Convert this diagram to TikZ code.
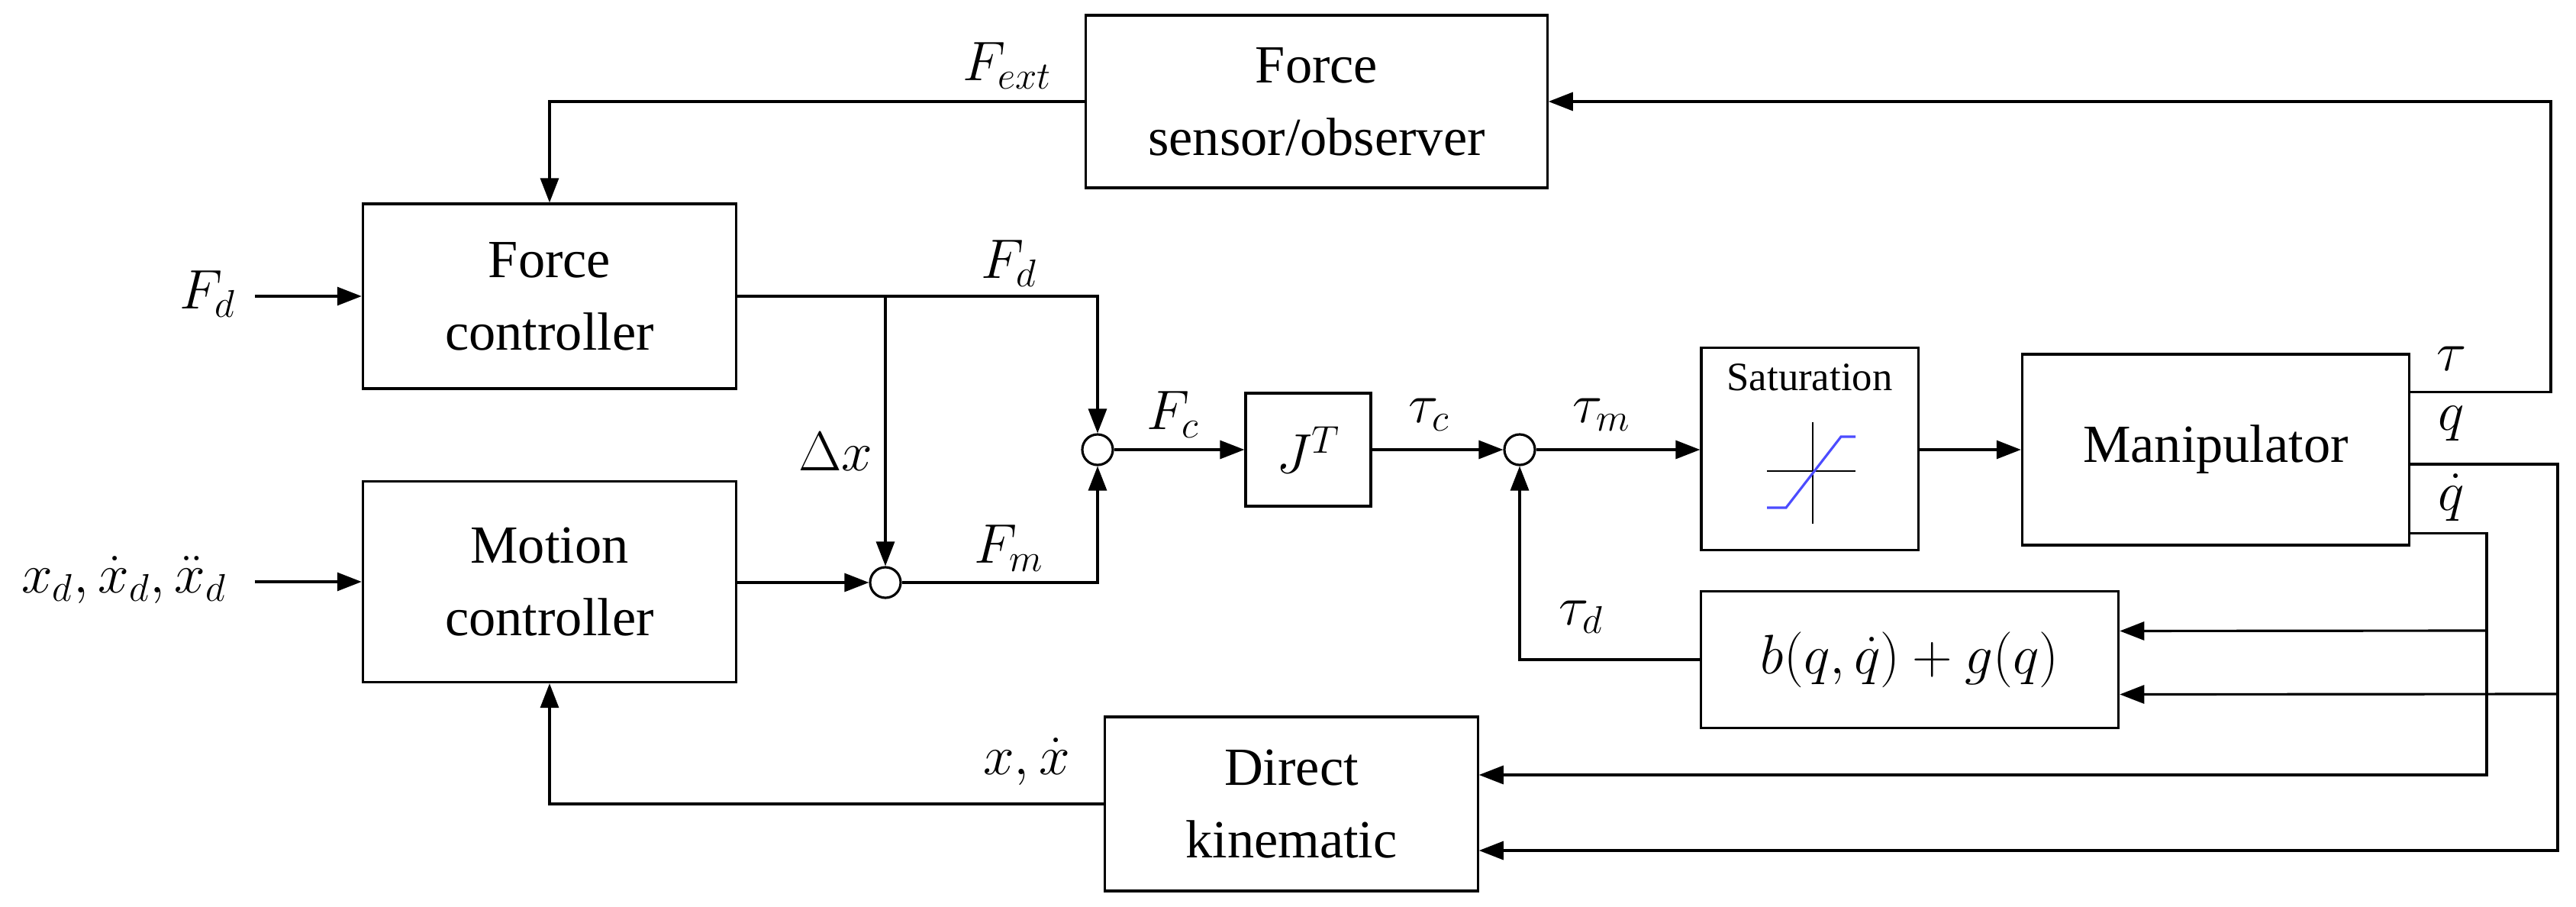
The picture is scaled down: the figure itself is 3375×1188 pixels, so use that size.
\documentclass[tikz,border=0pt]{standalone}
\usepackage{fontspec}
\setmainfont{Liberation Serif}
\usetikzlibrary{arrows.meta}
\begin{document}
\begin{tikzpicture}[x=0.01cm,y=-0.01cm,line width=0.9pt,
  box/.style={draw,inner sep=0pt,align=center,font=\fontsize{20}{27}\selectfont},
  sum/.style={draw,circle,inner sep=0pt,minimum size=0.4cm},
  arr/.style={-{Triangle[length=0.32cm,width=0.24cm]}},
  lab/.style={font=\fontsize{20}{24}\selectfont}]
\useasboundingbox (0,0) rectangle (3375,1188);
\node[box,minimum width=6.04cm,minimum height=2.26cm] (fs) at (1725,133) {Force\\sensor/observer};
\node[box,minimum width=4.89cm,minimum height=2.42cm] (fc) at (720,388) {Force\\controller};
\node[box,minimum width=4.89cm,minimum height=2.63cm] (mc) at (720,762) {Motion\\controller};
\node[box,minimum width=1.64cm,minimum height=1.48cm] (jt) at (1714,589) {$J^T$};
\node[box,minimum width=2.84cm,minimum height=2.65cm] (sat) at (2371,588) {};
\node[box,minimum width=5.07cm,minimum height=2.50cm] (man) at (2903,589) {Manipulator};
\node[box,minimum width=5.47cm,minimum height=1.79cm] (bx) at (2502,864) {$b(q,\dot q)+g(q)$};
\node[box,minimum width=4.88cm,minimum height=2.28cm] (dk) at (1692,1053) {Direct\\kinematic};
\node[sum] (s1) at (1438,589) {};
\node[sum] (s2) at (1160,763) {};
\node[sum] (s3) at (1991,589) {};
\node[font=\fontsize{15}{18}\selectfont] (satl) at (2371,494) {Saturation};
% saturation icon
\draw[line width=0.7pt] (2315,617) -- (2431,617);
\draw[line width=0.7pt] (2375,553) -- (2375,686);
\draw[blue!70!white,line width=0.9pt] (2315,665) -- (2340,665) -- (2412,572) -- (2431,572);
% inputs
\coordinate (fdin) at (334,388);
\coordinate (xdin) at (334,762);
\node[lab] (lfd) at (272,385) {$F_d$};
\node[lab,anchor=east] (lxd) at (310,760) {$x_d,\dot x_d,\ddot x_d$};
\draw[arr] (fdin) -- (fc.west);
\draw[arr] (xdin) -- (mc.west);
% connectors
\draw[arr] (fs.west) -| (fc.north);
\draw[arr] (fc.east) -| (s1.north);
\draw[arr] (fc.east -| s2.north) -- (s2.north);
\draw[arr] (mc.east |- s2.west) -- (s2.west);
\draw[arr] (s2.east) -| (s1.south);
\draw[arr] (s1.east) -- (jt.west);
\draw[arr] (jt.east) -- (s3.west);
\draw[arr] (s3.east) -- (sat.west |- s3.east);
\draw[arr] (sat.east |- man.west) -- (man.west);
\coordinate (tr) at (3342,134);
\draw[arr] ([yshift=-0.51cm]man.north east) -| (tr) |- (fs.east);
\coordinate (qr) at (3351,909);
\draw ([yshift=-0.19cm]man.east) -| (qr);
\draw[arr] (qr) -- ([yshift=-0.455cm]bx.east);
\draw[arr] (qr) |- ([yshift=-0.61cm]dk.east);
\coordinate (qdr) at (3258,826);
\draw ([yshift=0.17cm]man.south east) -| (qdr);
\draw[arr] (qdr) -- ([yshift=0.375cm]bx.east);
\draw[arr] (qdr) |- ([yshift=0.38cm]dk.east);
\draw[arr] (bx.west) -| (s3.south);
\draw[arr] (dk.west) -| (mc.south);
% labels
\node[lab] at (1320,86) {$F_{ext}$};
\node[lab] at (1322,345) {$F_d$};
\node[lab] at (1095,592) {$\Delta x$};
\node[lab] at (1322,718) {$F_m$};
\node[lab] at (1537,543) {$F_c$};
\node[lab] at (1873,543) {$\tau_c$};
\node[lab] at (2099,543) {$\tau_m$};
\node[lab] at (2072,808) {$\tau_d$};
\node[lab] at (3212,470) {$\tau$};
\node[lab] at (3212,555) {$q$};
\node[lab] at (3212,652) {$\dot q$};
\node[lab] at (1345,998) {$x,\dot x$};
\end{tikzpicture}
\end{document}
